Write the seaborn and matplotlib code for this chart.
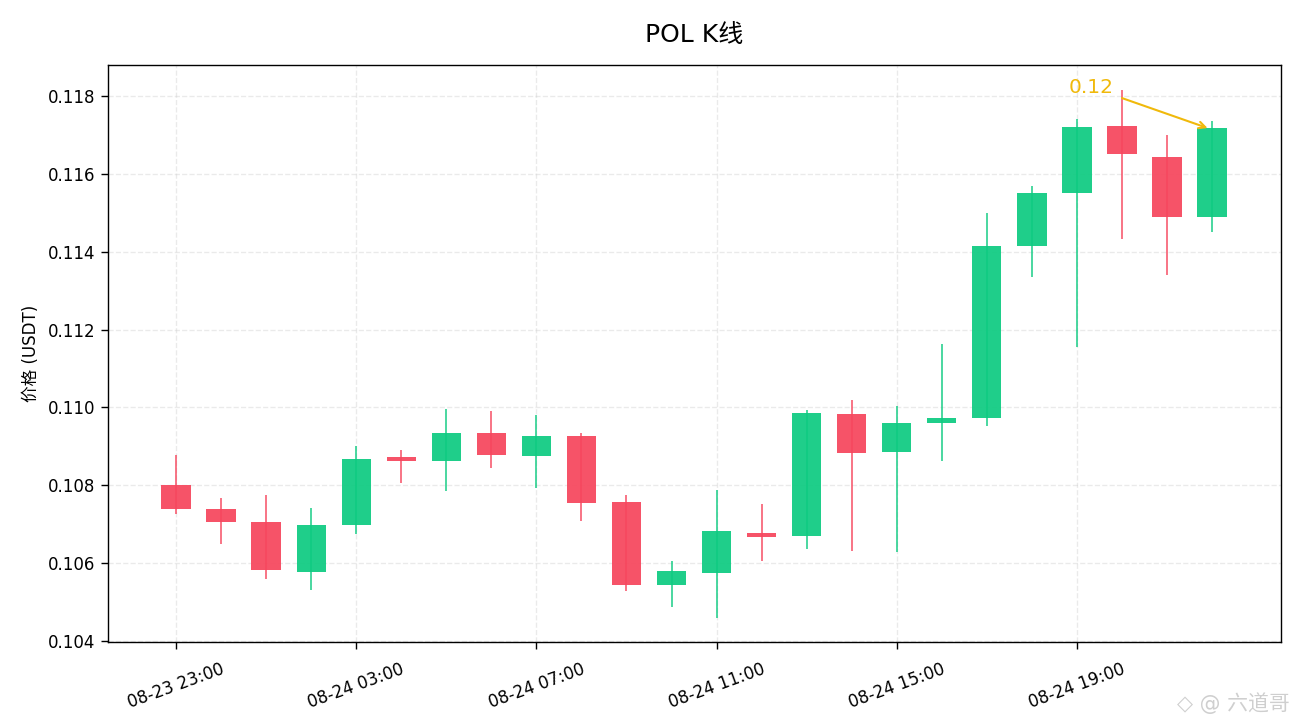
import matplotlib
matplotlib.use("Agg")
import matplotlib.pyplot as plt
import seaborn as sns
import numpy as np
import pandas as pd

# ---- data ----
times = ["08-23 23:00", "08-24 00:00", "08-24 01:00", "08-24 02:00", "08-24 03:00",
         "08-24 04:00", "08-24 05:00", "08-24 06:00", "08-24 07:00", "08-24 08:00",
         "08-24 09:00", "08-24 10:00", "08-24 11:00", "08-24 12:00", "08-24 13:00",
         "08-24 14:00", "08-24 15:00", "08-24 16:00", "08-24 17:00", "08-24 18:00",
         "08-24 19:00", "08-24 20:00", "08-24 21:00", "08-24 22:00"]
opens = [0.10801, 0.10739, 0.10706, 0.10577, 0.10698, 0.10873, 0.10862, 0.10934,
         0.10875, 0.10927, 0.10757, 0.10544, 0.10575, 0.10677, 0.10670, 0.10983,
         0.10886, 0.10960, 0.10973, 0.11415, 0.11551, 0.11723, 0.11643, 0.11489]
highs = [0.10878, 0.10767, 0.10775, 0.10742, 0.10901, 0.10891, 0.10996, 0.10991,
         0.10981, 0.10934, 0.10775, 0.10606, 0.10788, 0.10752, 0.10993, 0.11019,
         0.11004, 0.11163, 0.11499, 0.11569, 0.11741, 0.11815, 0.11700, 0.11736]
lows = [0.10726, 0.10649, 0.10559, 0.10531, 0.10675, 0.10806, 0.10785, 0.10844,
        0.10793, 0.10708, 0.10528, 0.10487, 0.10459, 0.10606, 0.10636, 0.10631,
        0.10629, 0.10862, 0.10952, 0.11335, 0.11155, 0.11433, 0.11340, 0.11451]
closes = [0.10739, 0.10706, 0.10582, 0.10698, 0.10868, 0.10862, 0.10934, 0.10878,
          0.10927, 0.10755, 0.10544, 0.10580, 0.10683, 0.10667, 0.10986, 0.10883,
          0.10960, 0.10973, 0.11415, 0.11551, 0.11720, 0.11651, 0.11489, 0.11718]
tick_step = 4
annot_label = "0.12"

df = pd.DataFrame({"time": times, "open": opens, "high": highs,
                   "low": lows, "close": closes})
df["idx"] = np.arange(len(df))
df["up"] = df["close"] >= df["open"]

GREEN = "#0ECB81"
RED = "#F6465D"
GOLD = "#F0B90B"

sns.set_theme(style="white")
plt.rcParams["font.family"] = ["DejaVu Sans", "Noto Sans CJK SC"]
plt.rcParams["axes.unicode_minus"] = False

fig = plt.figure(figsize=(13, 7.28), dpi=100)
ax = fig.add_axes([108 / 1300, 1 - 642 / 728, (1281 - 108) / 1300, (642 - 65) / 728])

colors = np.where(df["up"], GREEN, RED)
# wicks
ax.vlines(df["idx"], df["low"], df["high"], colors=colors, linewidth=1.4, alpha=0.75, zorder=2)
# bodies
body_bottom = np.minimum(df["open"], df["close"])
body_h = np.abs(df["close"] - df["open"])
body_h = np.maximum(body_h, 0.00008)
ax.bar(df["idx"], body_h, bottom=body_bottom, width=0.65, color=colors, alpha=0.93,
       linewidth=0, zorder=3)

# annotation on last close
last = df["idx"].iloc[-1]
ax.text(last - 3.18, df["high"].max() + 0.00006, annot_label, color=GOLD, fontsize=14.5,
        ha="left", va="center", zorder=5)
ax.annotate("", xy=(last - 0.1, df["close"].iloc[-1]),
            xytext=(last - 2.0, df["high"].max() - 0.0002),
            arrowprops=dict(arrowstyle="->", color=GOLD, lw=1.5, shrinkA=0, shrinkB=0),
            zorder=5)

ax.set_xlim(-1.51, len(df) + 0.53)
ax.set_ylim(0.10397, 0.11880)
ax.set_yticks(np.arange(0.104, 0.1185, 0.002))
ax.yaxis.set_major_formatter(matplotlib.ticker.FormatStrFormatter("%.3f"))
tick_pos = df["idx"][::tick_step]
ax.set_xticks(tick_pos)
ax.set_xticklabels(df["time"][::tick_step], rotation=20, ha="center")
ax.tick_params(axis="both", labelsize=12, length=5, width=1, colors="black",
               bottom=True, left=True, pad=4)
ax.tick_params(axis="x", pad=8)

ax.grid(True, linestyle="--", color="#cccccc", alpha=0.4, linewidth=1)
ax.set_axisbelow(True)
for s in ax.spines.values():
    s.set_color("black")
    s.set_linewidth(1)

ax.set_ylabel("价格 (USDT)", fontsize=12, color="black", labelpad=6)
fig.text((108 + 1281) / 2 / 1300, 1 - 35 / 728, "POL K线", fontsize=18,
         ha="center", va="center", color="black")

fig.text(1290 / 1300, 1 - 703 / 728, "◇ @ 六道哥", fontsize=15, color="#cfcfcf",
         ha="right", va="center")

fig.savefig("out.png", dpi=100)
